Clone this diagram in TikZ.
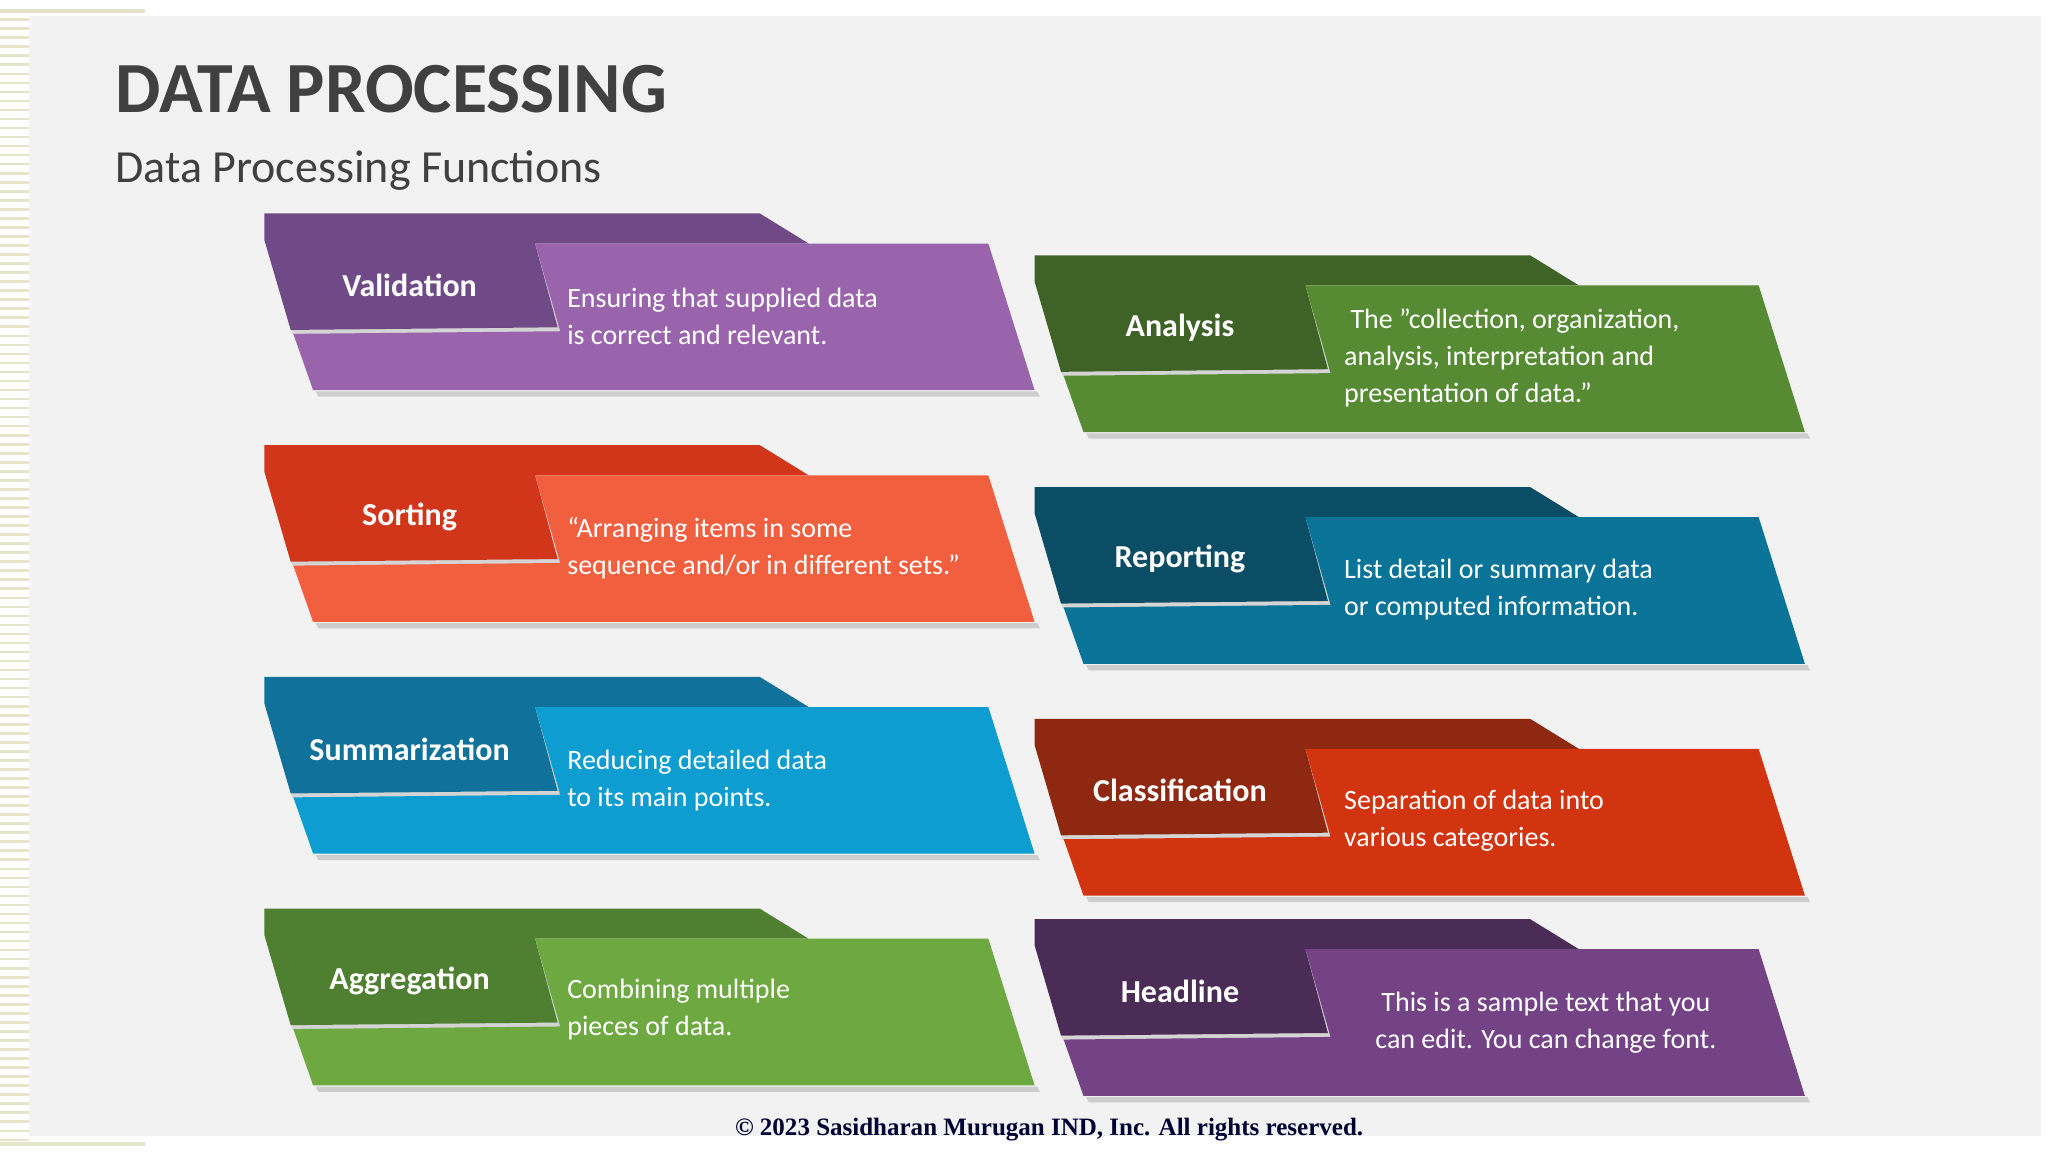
\documentclass[tikz,border=0pt]{standalone}
\usepackage{fontspec}
\setmainfont{Carlito}
\newfontfamily\footfont{Liberation Serif}
\definecolor{vd}{HTML}{6F4A86}\definecolor{vl}{HTML}{9A64AD}
\definecolor{sd}{HTML}{D2361A}\definecolor{sl}{HTML}{F15F3F}
\definecolor{md}{HTML}{10729A}\definecolor{ml}{HTML}{0E9DD0}
\definecolor{ad}{HTML}{4F7F30}\definecolor{al}{HTML}{6DA840}
\definecolor{nd}{HTML}{3F6226}\definecolor{nl}{HTML}{568B34}
\definecolor{rd}{HTML}{0C4D66}\definecolor{rl}{HTML}{0A7398}
\definecolor{cd}{HTML}{8E2811}\definecolor{cl}{HTML}{D33410}
\definecolor{hd}{HTML}{4B2C56}\definecolor{hl}{HTML}{744386}
\definecolor{stripe}{HTML}{E6E3C8}
\begin{document}
\begin{tikzpicture}[x=0.6605pt,y=-0.6545pt,
  lbl/.style={font=\fontsize{16}{19}\selectfont\bfseries,text=white},
  desc/.style={font=\fontsize{14}{18.5}\selectfont,text=white,align=left,anchor=west}]
\useasboundingbox (0,0) rectangle (1550,880);
\fill[white] (0,0) rectangle (1550,880);
\fill[gray!10] (22,12) rectangle (1545,868);
\foreach \i in {0,...,124}{\fill[stripe] (0,{14+\i*6.9}) rectangle (22,{16+\i*6.9});}
\fill[stripe] (0,7) rectangle (110,10);
\fill[stripe] (0,872) rectangle (110,875);
\node[anchor=west,font=\fontsize{36}{40}\selectfont\bfseries,text=black!75] (title) at (82,68) {DATA PROCESSING};
\node[anchor=west,font=\fontsize{23}{26}\selectfont,text=black!75] (sub) at (82,130) {Data Processing Functions};
\newcommand\card[8]{%
 \begin{scope}[shift={(#1,#2)}]
 \fill[black,opacity=0.15] (39,136)--(585,136)--(587,140)--(41,140)--cycle;
 \fill[#3] (0,0)--(375,0)--(412,23)--(205,23)--(222,87)--(20,89)--(0,20)--cycle;
 \fill[black,opacity=0.12] (205,23)--(222,87)--(20,89)--(22,93)--(226,91)--cycle;
 \fill[#4] (205,23)--(548,23)--(583,135)--(37,135)--(22,92)--(224,90)--cycle;
 \node[lbl] (l#1#2) at (110,55) {#5};
 \node[desc] (d#1#2) at (#7,#8) {#6};
 \end{scope}}
\card{200}{163}{vd}{vl}{Validation}{Ensuring that supplied data\\is correct and relevant.}{224}{79}
\card{200}{340}{sd}{sl}{Sorting}{“Arranging items in some\\sequence and/or in different sets."}{224}{79}
\card{200}{517}{md}{ml}{Summarization}{Reducing detailed data\\to its main points.}{224}{79}
\card{200}{694}{ad}{al}{Aggregation}{Combining multiple\\pieces of data.}{224}{77}
\card{783}{195}{nd}{nl}{Analysis}{\ The "collection, organization,\\analysis, interpretation and\\presentation of data."}{229}{78}
\card{783}{372}{rd}{rl}{Reporting}{List detail or summary data\\or computed information.}{229}{78}
\card{783}{549}{cd}{cl}{Classification}{Separation of data into\\various categories.}{229}{78}
\begin{scope}[shift={(783,702)}]
 \fill[black,opacity=0.15] (39,136)--(585,136)--(587,140)--(41,140)--cycle;
 \fill[hd] (0,0)--(375,0)--(412,23)--(205,23)--(222,87)--(20,89)--(0,20)--cycle;
 \fill[black,opacity=0.12] (205,23)--(222,87)--(20,89)--(22,93)--(226,91)--cycle;
 \fill[hl] (205,23)--(548,23)--(583,135)--(37,135)--(22,92)--(224,90)--cycle;
 \node[lbl] (lh) at (110,55) {Headline};
 \node[desc,anchor=center,align=center] (dh) at (387,79) {This is a sample text that you\\can edit. You can change font.};
\end{scope}
\node[font=\footfont\fontsize{12.5}{14}\selectfont\bfseries,text=black!80!blue] (foot) at (794,863) {© 2023 Sasidharan Murugan IND, Inc. All rights reserved.};
\end{tikzpicture}
\end{document}
